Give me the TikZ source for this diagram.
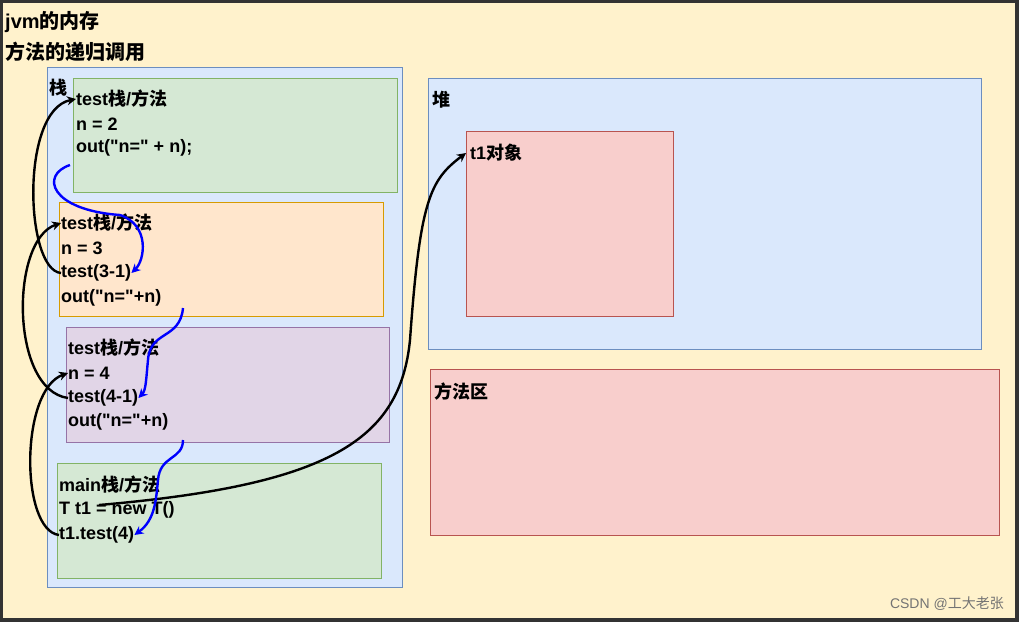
\documentclass[tikz,border=0pt]{standalone}
\usepackage{fontspec}
\setmainfont{Liberation Sans}[Ligatures=TeXOff]
\newfontfamily\cjk{Noto Sans CJK SC}
\usetikzlibrary{positioning,arrows.meta}
\definecolor{bgy}{HTML}{FFF2CC}
\definecolor{bluef}{HTML}{DAE8FC}\definecolor{blued}{HTML}{6C8EBF}
\definecolor{greenf}{HTML}{D5E8D4}\definecolor{greend}{HTML}{82B366}
\definecolor{orangef}{HTML}{FFE6CC}\definecolor{oranged}{HTML}{D79B00}
\definecolor{purplef}{HTML}{E1D5E7}\definecolor{purpled}{HTML}{9673A6}
\definecolor{redf}{HTML}{F8CECC}\definecolor{redd}{HTML}{B85450}
\newcommand{\zh}[1]{{\cjk\bfseries #1}}
\begin{document}
\begin{tikzpicture}[x=1pt,y=-1pt]
  \tikzstyle{box}=[draw,anchor=north west,inner sep=0pt,line width=0.8pt]
  \tikzstyle{txt}=[anchor=west,inner sep=0pt,font=\fontsize{18}{20}\selectfont\bfseries]
  \tikzstyle{call}=[draw,line width=2.4pt,-{Stealth[length=9pt,width=9pt]}]
  \tikzstyle{ret}=[draw,line width=2.4pt,blue,-{Stealth[length=9pt,width=9pt]}]

    \useasboundingbox (0,0) rectangle (1019,622);
    \fill[black!80] (0,0) rectangle (1019,622);
    \fill[bgy] (3,3) rectangle (1015,618);

    \node[txt,font=\fontsize{20}{22}\selectfont\bfseries] (title1) at (5,22) {jvm\zh{的内存}};
    \node[txt,font=\fontsize{20}{22}\selectfont\bfseries] (title2) at (5,52) {\zh{方法的递归调用}};

    \node[box,fill=bluef,draw=blued,minimum width=355,minimum height=520] (stack) at (47,67) {};
    \node[txt] (stacklbl) at (49,88) {\zh{栈}};

    \node[box,fill=greenf,draw=greend,minimum width=324,minimum height=114] (f1) at (73,78) {};
    \node[txt] (f1a) at (76,99) {test\zh{栈}/\zh{方法}};
    \node[txt] (f1b) at (76,124) {n = 2};
    \node[txt] (f1c) at (76,148) {out("n=" + n);};

    \node[box,fill=orangef,draw=oranged,minimum width=324,minimum height=114] (f2) at (59,202) {};
    \node[txt] (f2a) at (61,223) {test\zh{栈}/\zh{方法}};
    \node[txt] (f2b) at (61,248) {n = 3};
    \node[txt] (f2c) at (61,273) {test(3-1)};
    \node[txt] (f2d) at (61,298) {out("n="+n)};

    \node[box,fill=purplef,draw=purpled,minimum width=323,minimum height=115] (f3) at (66,327) {};
    \node[txt] (f3a) at (68,348) {test\zh{栈}/\zh{方法}};
    \node[txt] (f3b) at (68,373) {n = 4};
    \node[txt] (f3c) at (68,398) {test(4-1)};
    \node[txt] (f3d) at (68,422) {out("n="+n)};

    \node[box,fill=greenf,draw=greend,minimum width=324,minimum height=115] (fm) at (57,463) {};
    \node[txt] (fma) at (59,485) {main\zh{栈}/\zh{方法}};
    \node[txt] (fmb) at (59,510) {T t1 = new T()};
    \node[txt] (fmc) at (59,535) {t1.test(4)};

    \node[box,fill=bluef,draw=blued,minimum width=553,minimum height=271] (heap) at (428,78) {};
    \node[txt] (heaplbl) at (432,100) {\zh{堆}};
    \node[box,fill=redf,draw=redd,minimum width=207,minimum height=185] (obj) at (466,131) {};
    \node[txt] (objlbl) at (470,153) {t1\zh{对象}};

    \node[box,fill=redf,draw=redd,minimum width=569,minimum height=166] (meth) at (430,369) {};
    \node[txt] (methlbl) at (434,392) {\zh{方法区}};

    \node[anchor=east,inner sep=0pt,text=black!55,font=\fontsize{14}{16}\selectfont] (mark) at (1004,604) {CSDN @{\cjk 工大老张}};

    % calls
    \path[call] (fmc.west) .. controls (20,530) and (20,390) .. (f3b.west);
    \path[call] (f3c.west) .. controls (10,390) and (10,240) .. (f2a.west);
    \path[call] (f2c.west) .. controls (25,270) and (20,110) .. (f1a.west);
    \path[call] (fmb.west)+(40,-5) .. controls (330,485) and (400,440) .. (410,340)
        .. controls (420,200) and (430,180) .. (obj.west |- objlbl);
    % returns
    \path[ret] (70,165) .. controls (40,175) and (50,210) .. (120,215)
        .. controls (150,225) and (145,260) .. (f2c.east);
    \path[ret] (183,308) .. controls (180,340) and (150,330) .. (148,360)
        .. controls (146,380) and (146,390) .. (f3c.east);
    \path[ret] (183,440) .. controls (183,460) and (160,455) .. (158,480)
        .. controls (156,500) and (155,520) .. (fmc.east);
\end{tikzpicture}
\end{document}
